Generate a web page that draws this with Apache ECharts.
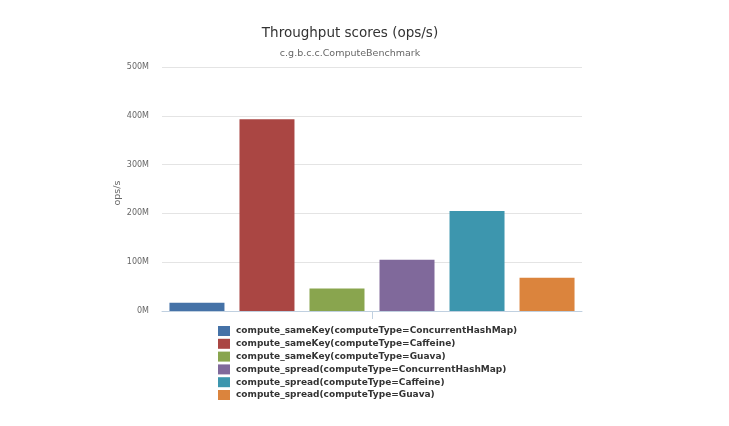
<!DOCTYPE html>
<html><head><meta charset="utf-8">
<script src="https://cdn.jsdelivr.net/npm/echarts@6/dist/echarts.min.js"></script>
<style>html,body{margin:0;padding:0;background:#fff}#c{width:729px;height:426px}</style>
</head><body><div id="c"></div>
<script>
var categories = [''];
var seriesNames = [
  'compute_sameKey(computeType=ConcurrentHashMap)',
  'compute_sameKey(computeType=Caffeine)',
  'compute_sameKey(computeType=Guava)',
  'compute_spread(computeType=ConcurrentHashMap)',
  'compute_spread(computeType=Caffeine)',
  'compute_spread(computeType=Guava)'
];
var seriesValues = [17e6, 393e6, 46e6, 105e6, 205e6, 68e6];
var colors = ['#4572a7','#aa4643','#89a54e','#80699b','#3d96ae','#db843d'];
var yTicks = [0, 100e6, 200e6, 300e6, 400e6, 500e6];

var chart = echarts.init(document.getElementById('c'));
var series = seriesNames.map(function(n, i){
  return {
    name: n, type: 'bar', data: [seriesValues[i]],
    barWidth: 55, barGap: '27.3%',
    itemStyle: {color: colors[i]},
    emphasis: {disabled: true}
  };
});
chart.setOption({
  animation: false,
  color: colors,
  title: [
    {text: 'Throughput scores (ops/s)', left: 345, top: 21, textAlign: 'center',
     textStyle: {fontFamily: 'DejaVu Sans', fontSize: 13.5, fontWeight: 'normal', color: '#333'}},
    {text: 'c.g.b.c.c.ComputeBenchmark', left: 345, top: 44, textAlign: 'center',
     textStyle: {fontFamily: 'DejaVu Sans', fontSize: 9.5, fontWeight: 'normal', color: '#666'}}
  ],
  grid: {left: 162, top: 67, width: 420, height: 244, containLabel: false},
  legend: {
    orient: 'vertical', left: 213, top: 321,
    itemWidth: 12, itemHeight: 10, itemGap: 2.8,
    icon: 'rect', selectedMode: false,
    textStyle: {fontFamily: 'DejaVu Sans', fontSize: 9, fontWeight: 'bold', color: '#333', padding: [0,0,0,1]},
    data: seriesNames
  },
  xAxis: {
    type: 'category', data: categories,
    axisLine: {lineStyle: {color: '#c0d0e0'}},
    axisTick: {show: true, alignWithLabel: true, length: 8, lineStyle: {color: '#c0d0e0'}},
    axisLabel: {show: false}
  },
  yAxis: {
    type: 'value', min: yTicks[0], max: yTicks[yTicks.length-1], interval: 100e6,
    name: 'ops/s', nameLocation: 'middle', nameGap: 39, nameRotate: 90, nameMoveOverlap: false,
    nameTextStyle: {fontFamily: 'DejaVu Sans', fontSize: 9.5, color: '#666', padding: [0,0,0,-8]},
    axisLine: {show: false}, axisTick: {show: false},
    axisLabel: {fontFamily: 'DejaVu Sans', fontSize: 8, color: '#666', margin: 13,
      formatter: function(v){ return (v/1e6) + 'M'; }},
    splitLine: {lineStyle: {color: '#e4e4e4'}}
  },
  series: series
});
</script>
</body></html>
